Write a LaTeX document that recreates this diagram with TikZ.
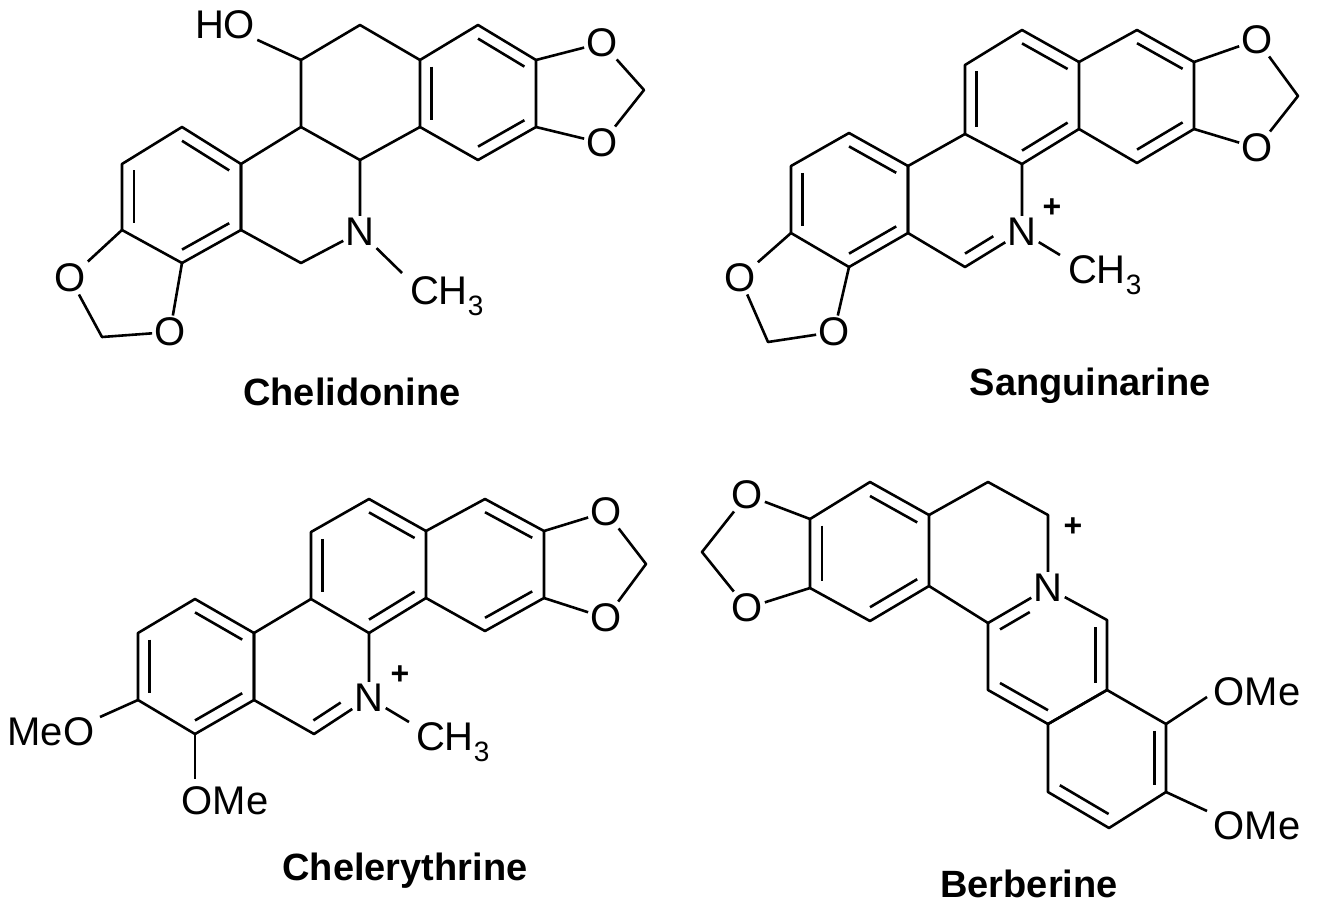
\documentclass[tikz,border=0pt]{standalone}
\usepackage{fontspec}
\setmainfont{Liberation Sans}
\usetikzlibrary{calc}
\newcommand\dblb[3]{\draw ($(#1)!0.2!(#3)$) -- ($(#2)!0.2!(#3)$);}
\newcommand\dblh[3]{\draw ($(#1)!0.2!(#3)$) -- ($($(#1)!0.2!(#3)$)!0.62!($(#2)!0.2!(#3)$)$);}
\begin{document}
\begin{tikzpicture}[x=1pt,y=-1pt,line width=2.6pt,line join=round,
  atom/.style={inner sep=1pt,font=\fontsize{40}{40}\selectfont},
  lab/.style={font=\fontsize{38}{38}\selectfont\bfseries},
  chg/.style={font=\fontsize{32}{32}\selectfont\bfseries}]
\useasboundingbox (0,0) rectangle (1329,911);
% ---------------- Chelidonine ----------------
\foreach \n/\x/\y in {a1/478/25,a2/536/60,a3/536/127,a4/478/160,a5/420/127,a6/420/60,ca/478/93,
 ch/644/90,b1/360/25,b2/301/60,b3/301/127,b4/360/160,c1/301/263,c2/241/230,c3/241/164,
 d1/182/263,d2/122/230,d3/122/164,d4/182/127,cd/182/196,ch2/102/337,me/402/273}
 {\coordinate (h\n) at (\x,\y);}
\node[atom] (hOa) at (602,43) {O};
\node[atom] (hOb) at (602,143) {O};
\node[atom] (hOc) at (70,278) {O};
\node[atom] (hOd) at (170,332) {O};
\node[atom] (hHO) at (225,25) {HO};
\node[atom] (hN) at (360,232) {N};
\node[atom] (hCH) at (447,296) {CH\textsubscript{3}};
\draw (ha1)--(ha2)--(ha3)--(ha4)--(ha5)--(ha6)--cycle;
\draw (ha2)--(hOa)--(hch)--(hOb)--(ha3);
\draw (ha6)--(hb1)--(hb2)--(hb3)--(hb4)--(ha5);
\draw (hb2)--(hHO);
\draw (hb4)--(hN)--(hc1)--(hc2)--(hc3)--(hb3);
\draw (hc3)--(hc2)--(hd1)--(hd2)--(hd3)--(hd4)--cycle;
\draw (hd2)--(hOc)--(hch2)--(hOd)--(hd1);
\draw (hN)--(hme);
\dblb{hd4}{hc3}{hcd}\dblb{hd3}{hd2}{hcd}\dblb{hd1}{hc2}{hcd}
\dblb{ha1}{ha2}{hca}\dblb{ha6}{ha5}{hca}\dblb{ha4}{ha3}{hca}
\node[lab] (hname) at (352,392) {Chelidonine};
% ---------------- Sanguinarine ----------------
\foreach \n/\x/\y in {r1/1137/30,r2/1194/62,r3/1194/129,r4/1137/163,r5/1079/129,r6/1079/62,rc/1137/96,
 ch/1298/96,m1/1022/30,m2/965/65,m3/965/134,m4/1022/164,mc/1022/97,Np/1022/232,n1/965/267,n2/908/233,n3/908/166,nc/965/200,
 l1/849/267,l2/791/233,l3/791/166,l4/849/133,lc/849/200,ch2/768/342,me/1060/255}
 {\coordinate (s\n) at (\x,\y);}
\node[atom] (sOa) at (1257,40) {O};
\node[atom] (sOb) at (1257,148) {O};
\node[atom] (sOc) at (740,278) {O};
\node[atom] (sOd) at (834,332) {O};
\node[atom] (sN) at (1022,232) {N};
\node[chg] (splus) at (1052,208) {+};
\node[atom] (sCH) at (1105,275) {CH\textsubscript{3}};
\draw (sr1)--(sr2)--(sr3)--(sr4)--(sr5)--(sr6)--cycle;
\draw (sr2)--(sOa)--(sch)--(sOb)--(sr3);
\draw (sr6)--(sm1)--(sm2)--(sm3)--(sm4)--(sr5);
\draw (sm4)--(sN)--(sn1)--(sn2)--(sn3)--(sm3);
\draw (sn3)--(sn2)--(sl1)--(sl2)--(sl3)--(sl4)--cycle;
\draw (sl2)--(sOc)--(sch2)--(sOd)--(sl1);
\draw (sN)--(sme);
\dblb{sr1}{sr2}{src}\dblb{sr4}{sr3}{src}
\dblb{sm1}{sr6}{smc}\dblb{sm2}{sm3}{smc}\dblb{sm4}{sr5}{smc}
\dblh{sn1}{sNp}{snc}
\dblb{sl4}{sn3}{slc}\dblb{sl3}{sl2}{slc}\dblb{sl1}{sn2}{slc}
\node[lab] (sname) at (1090,386) {Sanguinarine};
% ---------------- Chelerythrine ----------------
\foreach \n/\x/\y in {r1/485/499,r2/544/531,r3/544/598,r4/485/631,r5/426/598,r6/426/531,rc/485/565,
 ch/646/564,m1/369/499,m2/311/532,m3/311/599,m4/369/633,mc/369/566,Np/369/698,n1/314/734,n2/254/700,n3/254/633,nc/311/666,
 l1/195/734,l2/138/700,l3/138/633,l4/195/599,lc/195/666,me/409/722,mo/100/717,om/195/779}
 {\coordinate (t\n) at (\x,\y);}
\node[atom] (tOa) at (606,512) {O};
\node[atom] (tOb) at (606,618) {O};
\node[atom] (tN) at (369,698) {N};
\node[chg] (tplus) at (400,675) {+};
\node[atom] (tCH) at (453,742) {CH\textsubscript{3}};
\node[atom] (tMeO) at (51,732) {MeO};
\node[atom] (tOMe) at (225,801) {OMe};
\draw (tr1)--(tr2)--(tr3)--(tr4)--(tr5)--(tr6)--cycle;
\draw (tr2)--(tOa)--(tch)--(tOb)--(tr3);
\draw (tr6)--(tm1)--(tm2)--(tm3)--(tm4)--(tr5);
\draw (tm4)--(tN)--(tn1)--(tn2)--(tn3)--(tm3);
\draw (tn3)--(tn2)--(tl1)--(tl2)--(tl3)--(tl4)--cycle;
\draw (tN)--(tme);
\draw (tl2)--(tmo);
\draw (tl1)--(tom);
\dblb{tr1}{tr2}{trc}\dblb{tr4}{tr3}{trc}
\dblb{tm1}{tr6}{tmc}\dblb{tm2}{tm3}{tmc}\dblb{tm4}{tr5}{tmc}
\dblh{tn1}{tNp}{tnc}
\dblb{tl4}{tn3}{tlc}\dblb{tl3}{tl2}{tlc}\dblb{tl1}{tn2}{tlc}
\node[lab] (tname) at (405,871) {Chelerythrine};
% ---------------- Berberine ----------------
\foreach \n/\x/\y in {a1/870/482,a2/929/515,a3/929/586,a4/870/621,a5/810/588,a6/810/519,ac/870/552,
 ch/702/552,b1/988/482,b2/1048/515,Np/1048/588,b4/988/623,bc/988/552,c1/1107/620,c2/1107/690,c3/1048/724,c4/988/690,cc/1048/655,
 d1/1166/724,d2/1166/792,d3/1109/828,d4/1048/792,dc/1107/758,o1/1207/697,o2/1207/811}
 {\coordinate (u\n) at (\x,\y);}
\node[atom] (uOa) at (747,495) {O};
\node[atom] (uOb) at (747,608) {O};
\node[atom] (uN) at (1048,588) {N};
\node[chg] (uplus) at (1073,527) {+};
\node[atom] (uOMe1) at (1257,692) {OMe};
\node[atom] (uOMe2) at (1257,826) {OMe};
\draw (ua1)--(ua2)--(ua3)--(ua4)--(ua5)--(ua6)--cycle;
\draw (ua6)--(uOa)--(uch)--(uOb)--(ua5);
\draw (ua2)--(ub1)--(ub2)--(uN)--(ub4)--(ua3);
\draw (uN)--(uc1)--(uc2)--(uc3)--(uc4)--(ub4);
\draw (uc3)--(uc2)--(ud1)--(ud2)--(ud3)--(ud4)--cycle;
\draw (ud1)--(uo1);
\draw (ud2)--(uo2);
\dblb{ua1}{ua2}{uac}\dblb{ua6}{ua5}{uac}\dblb{ua4}{ua3}{uac}
\dblh{ub4}{uNp}{ucc}
\dblb{uc1}{uc2}{ucc}\dblb{uc4}{uc3}{ucc}
\dblb{ud1}{ud2}{udc}\dblb{ud3}{ud4}{udc}
\node[lab] (uname) at (1029,884) {Berberine};
\end{tikzpicture}
\end{document}
